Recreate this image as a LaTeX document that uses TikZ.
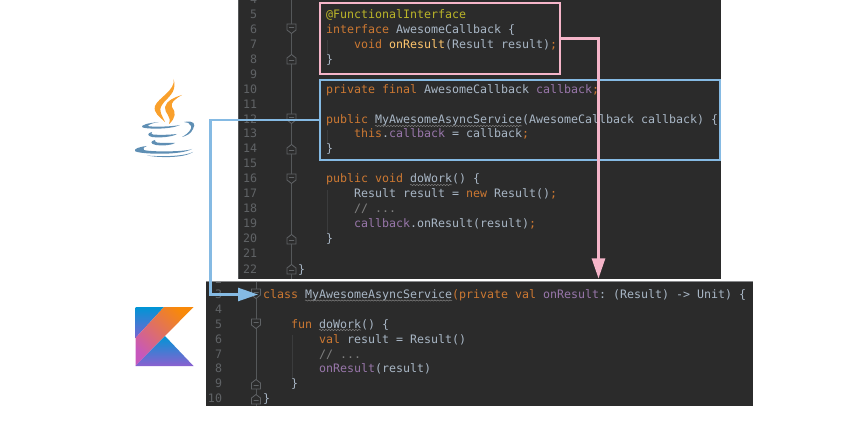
\documentclass[tikz,border=0pt]{standalone}
\usepackage{fontspec}
\setmonofont{DejaVu Sans Mono}
\usepackage{tikz}
\usetikzlibrary{arrows.meta,decorations.pathmorphing}
\definecolor{panelbg}{HTML}{2B2B2B}
\definecolor{paneledge}{HTML}{555759}
\definecolor{plaincol}{HTML}{A9B7C6}
\definecolor{kwcol}{HTML}{CC7832}
\definecolor{fldcol}{HTML}{9876AA}
\definecolor{mthcol}{HTML}{FFC66D}
\definecolor{anncol}{HTML}{BBB529}
\definecolor{cmtcol}{HTML}{808080}
\definecolor{numcol}{HTML}{606366}
\definecolor{pinkcol}{HTML}{F5B5C9}
\definecolor{bluecol}{HTML}{85BAE3}
\definecolor{flamecol}{HTML}{F9A02C}
\definecolor{cupcol}{HTML}{5F8FB4}
\newcommand{\kw}[1]{\textcolor{kwcol}{#1}}
\newcommand{\fld}[1]{\textcolor{fldcol}{#1}}
\newcommand{\mth}[1]{\textcolor{mthcol}{#1}}
\newcommand{\cmt}[1]{\textcolor{cmtcol}{#1}}
\newcommand{\codeln}[3]{\node [code] (#1) at (#2) {#3}}
\newcommand{\lnum}[3]{\node [linenum] (#1) at (#2) {#3}}
\newcommand{\foldopen}[1]{\draw [foldmark] (#1) ++(-4.5,-5) -- ++(9,0) -- ++(0,6) -- ++(-4.5,3.5) -- ++(-4.5,-3.5) -- cycle (#1) ++(-2.5,-1.5) -- ++(5,0)}
\newcommand{\foldclose}[1]{\draw [foldmark] (#1) ++(-4.5,5) -- ++(9,0) -- ++(0,-6) -- ++(-4.5,-3.5) -- ++(-4.5,3.5) -- cycle (#1) ++(-2.5,1.5) -- ++(5,0)}
\tikzset{
  code/.style={anchor=base west,inner sep=0,outer sep=0,text=plaincol,font=\ttfamily\fontsize{11.63}{15}\selectfont},
  linenum/.style={anchor=base east,inner sep=0,outer sep=0,text=numcol,font=\ttfamily\fontsize{11.63}{15}\selectfont},
  panel/.style={anchor=north west,fill=panelbg,inner sep=0,outer sep=0},
  markbox/.style={draw=#1,line width=2pt,inner sep=0,outer sep=0},
  guide/.style={draw=numcol!80!panelbg,line width=.8pt},
  indent/.style={draw=numcol!30!panelbg,line width=.5pt},
  foldmark/.style={draw=numcol,fill=panelbg,line width=.8pt},
  squiggle/.style={draw=cmtcol,line width=.5pt,decorate,decoration={snake,amplitude=.6pt,segment length=3pt}},
  link/.style={draw=#1,line width=2.5pt,-{Triangle[length=20pt,width=13pt,fill=#1]}},
}
\begin{document}
\begin{tikzpicture}[x=1pt,y=-1pt]
\useasboundingbox (0,0) rectangle (848,446);

% java panel
\node [panel,minimum width=483pt,minimum height=279pt] (javapanel) at (238,0) {};
\draw [paneledge,line width=1pt] (javapanel.north west) -- (javapanel.south west);
\draw [guide] (291.5,0) -- (291.5,279);
\draw [indent] (327,40) -- (327,54);
\draw [indent] (327,130) -- (327,144);
\draw [indent] (327,190) -- (327,234);

\lnum{J4}{257,4}{4};
\lnum{J5}{257,19}{5};
\lnum{J6}{257,34}{6};
\lnum{J7}{257,49}{7};
\lnum{J8}{257,64}{8};
\lnum{J9}{257,79}{9};
\lnum{J10}{257,94}{10};
\lnum{J11}{257,109}{11};
\lnum{J12}{257,124}{12};
\lnum{J13}{257,138}{13};
\lnum{J14}{257,153}{14};
\lnum{J15}{257,168}{15};
\lnum{J16}{257,183}{16};
\lnum{J17}{257,198}{17};
\lnum{J18}{257,213}{18};
\lnum{J19}{257,228}{19};
\lnum{J20}{257,243}{20};
\lnum{J21}{257,258}{21};
\lnum{J22}{257,273}{22};

\foldopen{291.5,29};
\foldclose{291.5,59};
\foldopen{291.5,119};
\foldclose{291.5,149};
\foldopen{291.5,179};
\foldclose{291.5,239};
\foldclose{291.5,269};

\codeln{ANNOT}{326,19}{\textcolor{anncol}{@FunctionalInterface}};
\codeln{IFACE}{326,34}{\kw{interface} AwesomeCallback \{};
\codeln{VOIDM}{354,49}{\kw{void} \mth{onResult}(Result result)\kw{;}};
\codeln{IFEND}{326,64}{\}};
\codeln{FIELD}{326,94}{\kw{private final} AwesomeCallback \fld{callback}\kw{;}};
\codeln{CTOR}{326,124}{\kw{public} MyAwesomeAsyncService(AwesomeCallback callback) \{};
\codeln{ASSIGN}{354,138}{\kw{this}.\fld{callback} = callback\kw{;}};
\codeln{CTEND}{326,153}{\}};
\codeln{WORK}{326,183}{\kw{public void} doWork() \{};
\codeln{RESJ}{354,198}{Result result = \kw{new} Result()\kw{;}};
\codeln{CMTJ}{354,213}{\cmt{// ...}};
\codeln{CALLJ}{354,228}{\fld{callback}.onResult(result)\kw{;}};
\codeln{WKEND}{326,243}{\}};
\codeln{CLEND}{298,273}{\}};

\draw [squiggle] (375,126) -- (522,126);
\draw [squiggle] (410,185) -- (452,185);

% kotlin panel
\node [panel,minimum width=547pt,minimum height=124.5pt] (kotlinpanel) at (206,281) {};
\draw [guide] (256,281) -- (256,405.5);
\draw [indent] (292.5,335) -- (292.5,378);

\begin{scope}
\clip (206,281) rectangle (753,405.5);
\lnum{K2}{222,283.5}{2};
\end{scope}
\lnum{K3}{222,298.5}{3};
\lnum{K4}{222,313}{4};
\lnum{K5}{222,328}{5};
\lnum{K6}{222,343}{6};
\lnum{K7}{222,358}{7};
\lnum{K8}{222,372.5}{8};
\lnum{K9}{222,387.5}{9};
\lnum{K10}{222,402.5}{10};

\foldopen{256,294};
\foldopen{256,324};
\foldclose{256,384};
\foldclose{256,399};

\codeln{CLASSK}{263,298.5}{\kw{class} MyAwesomeAsyncService\kw{(private val} \fld{onResult}: (Result) -> Unit) \{};
\codeln{FUNK}{291,328}{\kw{fun} doWork() \{};
\codeln{RESK}{319,343}{\kw{val} result = Result()};
\codeln{CMTK}{319,358}{\cmt{// ...}};
\codeln{CALLK}{319,372.5}{\fld{onResult}(result)};
\codeln{FUNEND}{291,387.5}{\}};
\codeln{CLASSEND}{263,402.5}{\}};

\draw [squiggle] (305,300.5) -- (452,300.5);
\draw [squiggle] (319,330) -- (361,330);
\draw [paneledge!70!white,line width=1pt] (kotlinpanel.north west) -- (kotlinpanel.north east);

% marked regions
\node [markbox=pinkcol,minimum width=240pt,minimum height=71pt] (callbackbox) at (440,38.5) {};
\node [markbox=bluecol,minimum width=400pt,minimum height=80pt] (servicebox) at (520,120) {};

\coordinate (bluebend) at (210.5,294.5);
\coordinate (blueend) at (258,294.5);
\coordinate (pinkend) at (598.5,278.5);
\draw [link=bluecol] (servicebox.west) -| (bluebend) -- (blueend);
\draw [link=pinkcol] (callbackbox.east) -| (pinkend);

% java logo
\fill [flamecol] (173.5,79) .. controls (176,90) and (158,98) .. (155,106) .. controls (153,113) and (160,117) .. (165,122) .. controls (162,115) and (158,111) .. (162,105) .. controls (166,98) and (178,93) .. (173.5,79);
\fill [flamecol] (182,95) .. controls (175,97) and (166,101) .. (165,107) .. controls (164,113) and (172,116) .. (169,124) .. controls (176,118) and (176,112) .. (172,107) .. controls (170,103) and (175,99) .. (182,95);
\begin{scope}[fill=cupcol]
\fill (159,122) .. controls (148,123) and (141,125) .. (142,127) .. controls (143,129) and (170,130) .. (180,125) .. controls (170,127) and (150,127) .. (148,126) .. controls (148,125) and (152,123) .. (159,122);
\fill (184,122) .. controls (194,120) and (196,124) .. (193,129) .. controls (191,134) and (186,136) .. (182,137) .. controls (189,133) and (192,129) .. (191,126) .. controls (190,123) and (187,122) .. (184,122);
\fill (152,132) .. controls (147,133) and (147,136) .. (152,137) .. controls (160,138) and (172,137) .. (177,134) .. controls (168,135) and (158,135) .. (153,134.5) .. controls (151,134) and (151,133) .. (152,132);
\fill (155,140) .. controls (150,141) and (150,144) .. (156,145) .. controls (164,146) and (172,145) .. (175,143) .. controls (168,143) and (160,143) .. (157,142.5) .. controls (155,142) and (155,141) .. (155,140);
\fill (147,146) .. controls (138,147) and (134,149) .. (135,151) .. controls (137,154) and (180,156) .. (192,149) .. controls (185,152) and (150,152) .. (144,150) .. controls (142,149) and (144,147) .. (147,146);
\fill (147,155.5) .. controls (160,158) and (185,158) .. (193,152) .. controls (185,156) and (165,157) .. (147,155.5);
\end{scope}

% kotlin logo
\shade [left color={rgb,255:red,0;green,149;blue,213},right color={rgb,255:red,120;green,100;blue,210},shading angle=0] (135.5,307) -- (164,307) -- (135.5,338) -- cycle;
\shade [top color={rgb,255:red,248;green,137;blue,9},bottom color={rgb,255:red,199;green,87;blue,188},shading angle=-45] (164,307) -- (193.5,307) -- (165,336) -- (135.5,366) -- (135.5,338) -- cycle;
\shade [left color={rgb,255:red,0;green,149;blue,213},right color={rgb,255:red,139;green,96;blue,208},shading angle=0] (135.5,366) -- (165,336) -- (193.5,366) -- cycle;

\end{tikzpicture}
\end{document}
